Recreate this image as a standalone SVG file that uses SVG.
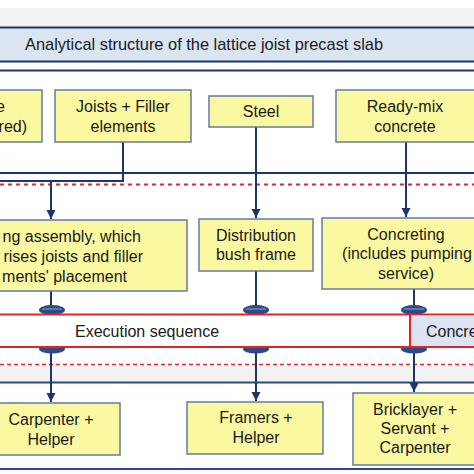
<svg xmlns="http://www.w3.org/2000/svg" width="474" height="474" viewBox="0 0 474 474">
<defs>
<style>
.box{fill:#fbf8a2;stroke:#667ba0;stroke-width:1.5}
.t{font-family:"Liberation Sans",Arial,sans-serif;font-size:16px;fill:#1a1a1a}
.c{text-anchor:middle}
.e{text-anchor:end}
.ln{stroke:#1f3568;stroke-width:2;fill:none}
.disk{fill:#2c4a86}
.stripe{stroke:#7f97c2;stroke-width:1.2}
</style>
<marker id="ah" markerUnits="userSpaceOnUse" markerWidth="10" markerHeight="10" viewBox="0 0 10 10" refX="9" refY="5" orient="auto">
<path d="M0,0.5 L9,5 L0,9.5 Z" fill="#1f3568"/>
</marker>
</defs>
<rect width="474" height="474" fill="#ffffff"/>
<rect x="0" y="8" width="474" height="19" fill="#f2f2f2"/>
<g id="title">
<rect x="-2" y="27.5" width="478" height="34" fill="#dbe4f1" stroke="#1f3568" stroke-width="2"/>
<text class="t" x="25" y="50" style="font-size:16.4px">Analytical structure of the lattice joist precast slab</text>
</g>
<line x1="0" y1="70.5" x2="474" y2="70.5" stroke="#1f3568" stroke-width="2"/>
<rect x="0" y="366" width="474" height="16" fill="#f2f2f2"/>
<line x1="0" y1="184.5" x2="474" y2="184.5" stroke="#e0242c" stroke-width="2" stroke-dasharray="4,4"/>
<line x1="0" y1="364.5" x2="474" y2="364.5" stroke="#e0242c" stroke-width="1.5" stroke-dasharray="4,3"/>
<line x1="0" y1="382.5" x2="474" y2="382.5" stroke="#2c4a86" stroke-width="2"/>
<line x1="0" y1="469" x2="474" y2="469" stroke="#2c4a86" stroke-width="2"/>

<g id="connectors">
<path class="ln" d="M0,173 H474"/>
<path class="ln" d="M123,142 V181 H0"/>
<path class="ln" d="M51,181 V219" marker-end="url(#ah)"/>
<path class="ln" d="M256,127 V218" marker-end="url(#ah)"/>
<path class="ln" d="M406,142 V217" marker-end="url(#ah)"/>
<path class="ln" d="M51,291 V307"/>
<path class="ln" d="M256,271 V307"/>
<path class="ln" d="M414,289 V307"/>
<path class="ln" d="M51,350 V402" marker-end="url(#ah)"/>
<path class="ln" d="M256,350 V401" marker-end="url(#ah)"/>
<path class="ln" d="M414,350 V392" marker-end="url(#ah)"/>
<ellipse class="disk" cx="52" cy="310" rx="13" ry="5"/>
<ellipse class="disk" cx="256" cy="310" rx="13" ry="5"/>
<ellipse class="disk" cx="414" cy="310" rx="13" ry="5"/>
<line class="stripe" x1="42" y1="309" x2="62" y2="309"/>
<line class="stripe" x1="246" y1="309" x2="266" y2="309"/>
<line class="stripe" x1="404" y1="309" x2="424" y2="309"/>
<ellipse class="disk" cx="52" cy="349" rx="13" ry="4.5"/>
<ellipse class="disk" cx="256" cy="349" rx="13" ry="4.5"/>
<ellipse class="disk" cx="414" cy="349" rx="13" ry="4.5"/>
</g>

<g id="band">
<rect x="-2" y="314.5" width="478" height="32.5" fill="#ffffff" stroke="#e0242c" stroke-width="2"/>
<rect x="410" y="315.5" width="66" height="30.5" fill="#dde3f0"/>
<line x1="410" y1="314.5" x2="410" y2="347" stroke="#e0242c" stroke-width="2"/>
<text class="t" x="75" y="337">Execution sequence</text>
<text class="t" x="426" y="337">Concre</text>
</g>

<g id="n-left-top">
<rect class="box" x="-10" y="90" width="52" height="52"/>
<text class="t e" x="5" y="112">e</text>
<text class="t e" x="27" y="132">red)</text>
</g>
<g id="n-joists">
<rect class="box" x="55" y="90" width="136" height="52"/>
<text class="t c" x="123" y="112">Joists + Filler</text>
<text class="t c" x="123" y="132">elements</text>
</g>
<g id="n-steel">
<rect class="box" x="209" y="96" width="104" height="31"/>
<text class="t c" x="261" y="117">Steel</text>
</g>
<g id="n-readymix">
<rect class="box" x="336" y="90" width="145" height="52"/>
<text class="t c" x="405" y="112">Ready-mix</text>
<text class="t c" x="405" y="132">concrete</text>
</g>

<g id="n-assembly">
<rect class="box" x="-80" y="220" width="267" height="71"/>
<text class="t e" x="141" y="242">ng assembly, which</text>
<text class="t e" x="143" y="262">rises joists and filler</text>
<text class="t e" x="127" y="282">ments' placement</text>
</g>
<g id="n-distribution">
<rect class="box" x="199" y="219" width="114" height="52"/>
<text class="t c" x="256" y="241">Distribution</text>
<text class="t c" x="256" y="260">bush frame</text>
</g>
<g id="n-concreting">
<rect class="box" x="322" y="218" width="160" height="71"/>
<text class="t c" x="406" y="240">Concreting</text>
<text class="t c" x="407" y="259">(includes pumping</text>
<text class="t c" x="406" y="279">service)</text>
</g>

<g id="n-carpenter">
<rect class="box" x="-10" y="403" width="130" height="52"/>
<text class="t c" x="51" y="425">Carpenter +</text>
<text class="t c" x="51" y="445">Helper</text>
</g>
<g id="n-framers">
<rect class="box" x="187" y="402" width="136" height="52"/>
<text class="t c" x="256" y="423">Framers +</text>
<text class="t c" x="256" y="443">Helper</text>
</g>
<g id="n-bricklayer">
<rect class="box" x="353" y="393" width="130" height="72"/>
<text class="t c" x="415" y="415">Bricklayer +</text>
<text class="t c" x="415" y="434">Servant +</text>
<text class="t c" x="415" y="453">Carpenter</text>
</g>
</svg>
